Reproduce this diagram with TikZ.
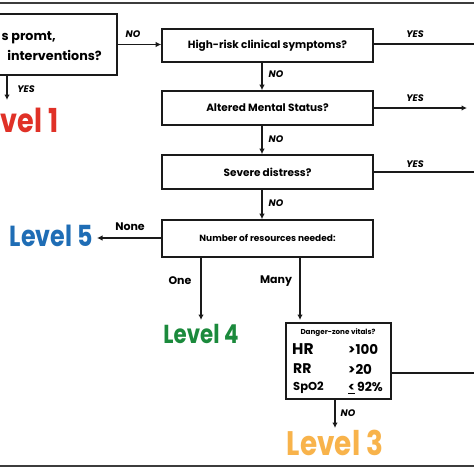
\documentclass[tikz,border=0pt]{standalone}
\usepackage{fontspec}
\setmainfont{Poppins}
\usetikzlibrary{arrows.meta}
\definecolor{lvred}{HTML}{E03127}
\definecolor{lvblue}{HTML}{1F6DB5}
\definecolor{lvgreen}{HTML}{1B8A3C}
\definecolor{lvorange}{HTML}{F8B34B}
\definecolor{ink}{HTML}{1A1A1A}
\newcommand{\lvtext}[2]{\scalebox{0.82}[1]{\fontsize{#1}{#1}\selectfont\bfseries #2}}
\tikzset{
  box/.style={draw=ink, line width=1.6pt, inner sep=0pt, font=\bfseries\fontsize{10.5}{12}\selectfont},
  lbl/.style={font=\bfseries\itshape\fontsize{9.5}{10}\selectfont, inner sep=0pt},
  cnt/.style={font=\bfseries\fontsize{11}{12}\selectfont, inner sep=0pt},
  arr/.style={draw=ink, line width=1.1pt, -{Latex[length=5.5pt,width=5.5pt]}},
  ln/.style={draw=ink, line width=1.1pt},
  lev/.style={inner sep=0pt},
  vit/.style={font=\bfseries\fontsize{14}{15}\selectfont, inner sep=0pt, anchor=west},
  frame/.style={draw=ink!85, line width=1.6pt},
}
\begin{document}
\begin{tikzpicture}[x=1pt,y=-1pt]
\useasboundingbox (0,0) rectangle (474,474);
\clip (0,0) rectangle (474,474);
\fill[white] (0,0) rectangle (474,474);
% frame lines
\coordinate (tl) at (0,3); \coordinate (tr) at (474,3);
\coordinate (bl) at (0,466); \coordinate (br) at (474,466);
\draw[frame] (tl) -- (tr);
\draw[frame] (bl) -- (br);
% box 1 (cropped)
\node[box, minimum width=137pt, minimum height=61pt] (b1) at (48.5,44.5) {};
\node[cnt, font=\bfseries\fontsize{12.7}{13}\selectfont, anchor=east] (t1a) at (56,38) {s promt,};
\node[cnt, font=\bfseries\fontsize{12.7}{13}\selectfont, anchor=east] (t1b) at (102,55) {interventions?};
\node[lev, text=lvred, anchor=west] (L1) at (0.5,120) {\lvtext{33}{vel 1}};
\coordinate (y1) at (7,100);
\draw[arr] (b1.south -| y1) -- (y1);
\node[lbl] (lyes1) at (26,89) {YES};
% boxes 2-5
\node[box, minimum width=211pt, minimum height=33pt] (b2) at (267.5,45.5) {High-risk clinical symptoms?};
\node[box, minimum width=211pt, minimum height=34pt] (b3) at (267.5,108) {Altered Mental Status?};
\node[box, minimum width=211pt, minimum height=34pt] (b4) at (267.5,172) {Severe distress?};
\node[box, minimum width=211pt, minimum height=37pt, font=\bfseries\fontsize{9}{10}\selectfont] (b5) at (267.5,238.5) {Number of resources needed:};
% box1 -> box2
\draw[arr] (b1.east) -- (b1.east -| b2.west);
\node[lbl] (lno1) at (133,34) {NO};
% vertical NO arrows
\coordinate (vx) at (262,0);
\draw[arr] (b2.south -| vx) -- (b3.north -| vx);
\draw[arr] (b3.south -| vx) -- (b4.north -| vx);
\draw[arr] (b4.south -| vx) -- (b5.north -| vx);
\node[lbl] (lno2) at (276,74) {NO};
\node[lbl] (lno3) at (276,139) {NO};
\node[lbl] (lno4) at (276,203) {NO};
% YES to the right
\coordinate (e2) at (474,44);
\coordinate (e3) at (467,108);
\coordinate (e4) at (474,172);
\draw[ln] (b2.east |- e2) -- (e2);
\draw[arr] (b3.east |- e3) -- (e3);
\draw[ln] (b4.east |- e4) -- (e4);
\node[lbl] (lyes2) at (415,34) {YES};
\node[lbl] (lyes3) at (415,98) {YES};
\node[lbl] (lyes4) at (415,164) {YES};
% Level 5
\node[lev, text=lvblue, anchor=east] (L5) at (93,236) {\lvtext{29}{Level 5}};
\coordinate (a5) at (97,238);
\draw[arr] (b5.west |- a5) -- (a5);
\node[cnt] (lnone) at (130,227) {None};
% One / Many
\node[lev, text=lvgreen] (L4) at (201,334) {\lvtext{26}{Level 4}};
\coordinate (a4) at (201,320);
\draw[arr] (b5.south -| a4) -- (a4);
\node[cnt] (lone) at (180,281) {One};
\node[box, minimum width=105pt, minimum height=76pt] (b6) at (338.5,361) {};
\coordinate (a6) at (300,320);
\draw[arr] (b5.south -| a6) -- (a6);
\node[cnt] (lmany) at (276,281) {Many};
% box 6 contents
\node[font=\bfseries\fontsize{7.2}{8}\selectfont, inner sep=0pt] (dz) at (338,333) {Danger-zone vitals?};
\node[vit, font=\bfseries\fontsize{15.5}{16}\selectfont] (hr) at (292,349) {HR};
\node[vit, font=\bfseries\fontsize{13.5}{14}\selectfont] (hrv) at (348,349) {>100};
\node[vit] (rr) at (293,369) {RR};
\node[vit, font=\bfseries\fontsize{13.5}{14}\selectfont] (rrv) at (348,369) {>20};
\node[vit, font=\bfseries\fontsize{11.5}{12}\selectfont] (sp) at (293,388) {SpO2};
\node[vit, font=\bfseries\fontsize{12.5}{13}\selectfont] (spv) at (348,388) {\underline{<}\,92\%};
\coordinate (e6) at (474,373);
\draw[ln] (b6.east |- e6) -- (e6);
% Level 3
\node[lev, text=lvorange] (L3) at (335,443) {\lvtext{34}{Level 3}};
\coordinate (a3) at (335,428);
\draw[arr] (b6.south -| a3) -- (a3);
\node[lbl] (lno6) at (348,413) {NO};
\end{tikzpicture}
\end{document}
